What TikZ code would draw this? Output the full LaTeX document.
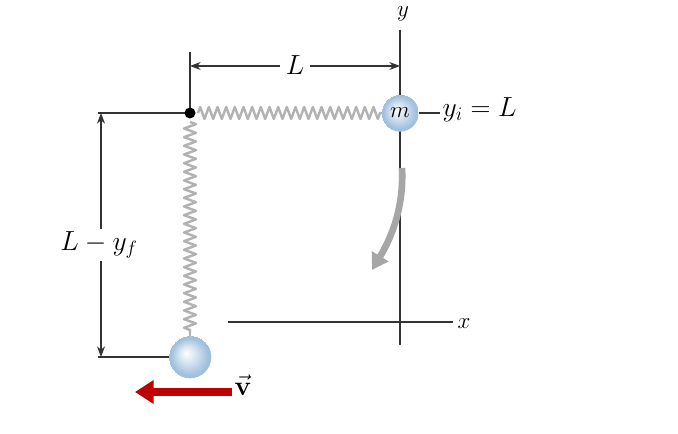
\documentclass[tikz,border=0pt]{standalone}
\usetikzlibrary{decorations.pathmorphing,arrows.meta,shadings}
\definecolor{bl1}{RGB}{214,228,240}
\definecolor{bl2}{RGB}{160,192,222}
\pgfdeclareradialshading{lightball}{\pgfpoint{-5pt}{5pt}}{color(0pt)=(white); color(10pt)=(bl1); color(22pt)=(bl2); color(25pt)=(bl2)}
\begin{document}
\begin{tikzpicture}[x=0.75pt,y=-0.75pt,
 ln/.style={black!80,line width=0.9pt},
 dim/.style={ln,{Stealth[length=8pt,width=6pt]}-{Stealth[length=8pt,width=6pt]}},
 spr/.style={gray!60,line width=1.8pt,line join=round,decorate,decoration={zigzag,segment length=6.5pt,amplitude=4.5pt}},
 ballst/.style={circle,inner sep=0pt,shading=lightball}]
\useasboundingbox (0,0) rectangle (678,434);
\fill[white] (0,0) rectangle (678,434);
\coordinate (ytop) at (400,30); \coordinate (ybot) at (400,345);
\draw[ln] (ytop) -- (ybot);
\node (ylab) at (403,14) {\LARGE $y$};
\coordinate (xl) at (228,322); \coordinate (xr) at (453,322);
\draw[ln] (xl) -- (xr);
\node (xlab) at (464,324) {\LARGE $x$};
% horizontal lines
\coordinate (h1) at (98,113); \coordinate (piv) at (190,113);
\draw[ln] (h1) -- (piv);
\coordinate (h2) at (98,357); \coordinate (h3) at (172,357);
\draw[ln] (h2) -- (h3);
% top dimension
\coordinate (t1) at (190,52);
\draw[ln] (t1) -- (piv);
\coordinate (da) at (190,66); \coordinate (db) at (400,66);
\draw[dim] (da) -- (db);
\node[fill=white,inner sep=4pt] (Llab) at (295,65) {\huge $L$};
% left dimension
\coordinate (la) at (101,113); \coordinate (lb) at (101,357);
\draw[dim] (la) -- (lb);
\node[fill=white,inner sep=2pt] (lylab) at (99,245) {\huge $L-y_f$};
% springs
\coordinate (s1) at (198,113); \coordinate (s2) at (384,113);
\draw[spr] (s1) -- (s2);
\coordinate (v1) at (190,122); \coordinate (v2) at (190,333);
\draw[spr] (v1) -- (v2);
\draw[gray!60,line width=2pt] (v2) -- (190,342);
% mass
\node[ballst,minimum size=28pt] (m) at (400,113) {\LARGE $m$};
\coordinate (mr) at (440,113);
\draw[ln] (m.east) -- (mr);
\node[anchor=west,inner sep=1pt] (yi) at (441,110) {\huge $y_i = L$};
\fill[black] (piv) circle (5.5);
\node[ballst,minimum size=32pt] (ball) at (190,357) {};
% curved arrow
\coordinate (c1) at (402,168); \coordinate (c2) at (372,270);
\draw[gray!70,line width=5pt,-{Triangle[length=12pt,width=14pt]}] (c1) .. controls (404,210) and (390,240) .. (c2);
% velocity
\coordinate (r1) at (232,392); \coordinate (r2) at (135,392);
\draw[red!75!black,line width=6pt,-{Triangle[length=14pt,width=17pt]}] (r1) -- (r2);
\node (vlab) at (243,385) {\huge $\vec{\mathbf{v}}$};
\end{tikzpicture}
\end{document}
